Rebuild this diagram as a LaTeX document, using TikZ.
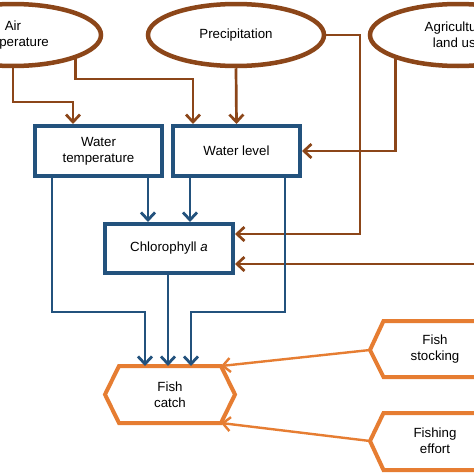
\documentclass[tikz,border=0pt]{standalone}
\usepackage{fontspec}
\setmainfont{Liberation Sans}
\usetikzlibrary{arrows.meta,shapes.geometric}
\definecolor{brn}{RGB}{140,70,25}
\definecolor{blu}{RGB}{35,82,125}
\definecolor{org}{RGB}{230,125,50}
\begin{document}
\begin{tikzpicture}[x=1pt,y=-1pt,
  font=\fontsize{13.3}{16}\selectfont,
  ell/.style={ellipse,draw=brn,line width=4.5pt,fill=white,minimum width=176pt,minimum height=62pt,inner sep=0pt,align=center},
  bbox/.style={rectangle,draw=blu,line width=4pt,fill=white,inner sep=0pt,align=center},
  lab/.style={inner sep=0pt,align=center},
  tip/.style={-{Straight Barb[length=7.5pt,width=14pt]}},
  bc/.style={draw=brn,line width=2.7pt,tip},
  blc/.style={draw=blu,line width=2.8pt,tip},
  oc/.style={draw=org,line width=2.4pt,tip},
  hexa/.style={draw=org,line width=4pt,line join=miter}]
\clip (0,0) rectangle (474,474);
\fill[white] (0,0) rectangle (474,474);
% ellipses
\node[ell] (air) at (13,35) {Air\\temperature};
\node[ell] (pre) at (236,35) {Precipitation};
\node[ell] (agr) at (458,35) {Agricultural\\land use};
% boxes
\node[bbox,minimum width=127pt,minimum height=50pt] (wt) at (98.5,151) {Water\\temperature};
\node[bbox,minimum width=127pt,minimum height=50pt] (wl) at (236.5,151) {Water level};
\node[bbox,minimum width=128pt,minimum height=49pt] (chl) at (169,248.5) {Chlorophyll \textit{a}};
% hexagons
\coordinate (cl) at (105,394.5);
\coordinate (ctl) at (119,366);
\coordinate (ctr) at (221,366);
\coordinate (cr) at (235,394.5);
\coordinate (cbr) at (221,423);
\coordinate (cbl) at (119,423);
\draw[hexa] (cl) -- (ctl) -- (ctr) -- (cr) -- (cbr) -- (cbl) -- cycle;
\node[lab] (catch) at (170,394.5) {Fish\\catch};
\coordinate (sl) at (370,350);
\draw[hexa] (sl) -- (383.5,321) -- (495,321) -- (495,377) -- (383.5,377) -- cycle;
\node[lab] (stock) at (435,349) {Fish\\stocking};
\coordinate (el) at (370,441);
\draw[hexa] (el) -- (383.5,413) -- (495,413) -- (495,470) -- (383.5,470) -- cycle;
\node[lab] (effort) at (435,441) {Fishing\\effort};
\coordinate (offR) at (480,264);
% brown connectors
\draw[bc] (air.south) |- (73,102) -- (73,0 |- wt.north);
\draw[bc] (air.-21) |- (193,79) -- (193,0 |- wl.north);
\draw[bc] (pre.south) -- (wl.north);
\draw[bc] (pre.east) -| (360,234) -- (chl.east |- 0,234);
\draw[bc] (agr.-159) |- (wl.east);
\draw[bc] (offR) -- (chl.east |- offR);
% blue connectors
\draw[blc] (148,0 |- wt.south) -- (148,0 |- chl.north);
\draw[blc] (190,0 |- wl.south) -- (190,0 |- chl.north);
\draw[blc] (52,0 |- wt.south) |- (145,312) -- (145,0 |- ctl);
\draw[blc] (168,0 |- chl.south) -- (168,0 |- ctl);
\draw[blc] (285,0 |- wl.south) |- (191,312) -- (191,0 |- ctl);
% orange connectors
\draw[oc] (sl) -- (ctr);
\draw[oc] (el) -- (cbr);
\end{tikzpicture}
\end{document}
